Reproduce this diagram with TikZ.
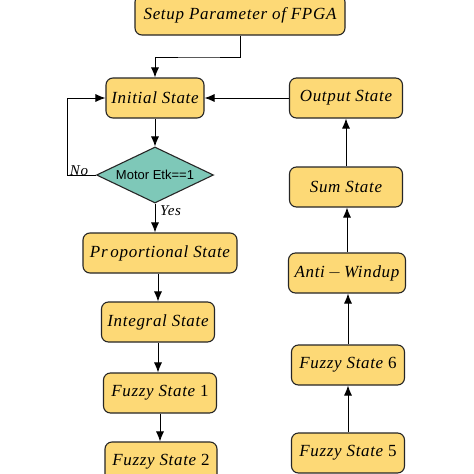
\documentclass[tikz,border=0pt]{standalone}
\usepackage{fontspec}
\setmainfont{Liberation Serif}
\newfontfamily\statefont[LetterSpace=4]{Liberation Serif}
\newfontfamily\motorfont{Liberation Sans}
\usetikzlibrary{shapes.geometric,arrows.meta}

\definecolor{stategold}{RGB}{253,217,118}
\definecolor{decteal}{RGB}{126,200,184}

\tikzset{
	state/.style={draw=black!85, fill=stategold, rounded corners=7pt, line width=1.1pt,
		minimum height=40pt, inner sep=2pt, font=\statefont\fontsize{17}{20}\selectfont\itshape},
	decision/.style={draw=black!85, fill=decteal, diamond, aspect=2.1, line width=1.1pt,
		minimum width=117pt, minimum height=56pt, inner sep=0pt, font=\motorfont\fontsize{13}{15}\selectfont},
	flow/.style={-{Latex[length=10pt,width=8pt]}, line width=0.9pt},
	branch/.style={font=\statefont\fontsize{15}{18}\selectfont\itshape, inner sep=1pt}
}

\begin{document}
\begin{tikzpicture}[x=1pt,y=-1pt]
\useasboundingbox[fill=white] (0,0) rectangle (474,474);

% left column
\node[state, minimum width=210pt] (setup) at (240,15) {Setup Parameter of FPGA};
\node[state, minimum width=98pt] (init) at (155,98) {Initial State};
\node[decision] (motor) at (155,175) {Motor Etk==1};
\node[state, minimum width=154pt] (prop) at (160,253) {Pr\,\textit{oportional State}};
\node[state, minimum width=113pt] (integ) at (158,322) {Integral State};
\node[state, minimum width=113pt] (fuzzy1) at (160,393) {Fuzzy State \upshape 1};
\node[state, minimum width=112pt] (fuzzy2) at (161,462) {Fuzzy State \upshape 2};

% right column
\node[state, minimum width=113pt] (output) at (346,98) {Output State};
\node[state, minimum width=113pt] (sum) at (346,187) {Sum State};
\node[state, minimum width=117pt] (anti) at (347,273) {Anti{\upshape\,$-$\,}Windup};
\node[state, minimum width=113pt] (fuzzy6) at (348,365) {Fuzzy State \upshape 6};
\node[state, minimum width=113pt] (fuzzy5) at (348,453) {Fuzzy State \upshape 5};

\coordinate (noturn) at (67,175);

% connectors
\draw[flow] (setup.south) |- (200,57) -| (init.north);
\draw[flow] (output) -- (init);
\draw[flow] (init) -- (motor);
\draw[flow] (motor.west) -- (noturn) |- (init.west);
\draw[flow] (motor.south) -- (motor.south |- prop.north);
\draw[flow] (integ.north |- prop.south) -- (integ.north);
\draw[flow] (integ.south) -- (integ.south |- fuzzy1.north);
\draw[flow] (fuzzy1.south) -- (fuzzy1.south |- fuzzy2.north);
\draw[flow] (fuzzy5.north) -- (fuzzy5.north |- fuzzy6.south);
\draw[flow] (fuzzy6.north) -- (fuzzy6.north |- anti.south);
\draw[flow] (anti.north) -- (anti.north |- sum.south);
\draw[flow] (sum.north) -- (sum.north |- output.south);

% branch labels
\node[branch, anchor=south] (nolbl) at (79,177) {No};
\node[branch, anchor=west] (yeslbl) at (159,211) {Yes};
\end{tikzpicture}
\end{document}
